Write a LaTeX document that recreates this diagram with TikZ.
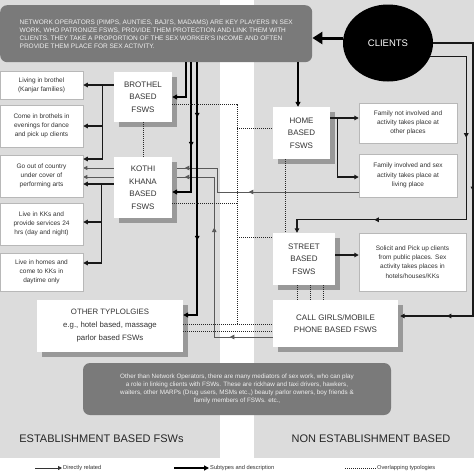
\documentclass[tikz,border=0pt]{standalone}
\usepackage{fontspec}
\setmainfont{Liberation Sans}
\usetikzlibrary{arrows.meta,shapes.geometric,shadows,decorations.markings,calc}
\pgfdeclarelayer{background}
\pgfdeclarelayer{lines}
\pgfsetlayers{background,lines,main}
\definecolor{panel}{HTML}{DCDCDC}
\definecolor{darkfill}{HTML}{7A7A7A}
\definecolor{txt}{HTML}{333333}
\begin{document}
\begin{tikzpicture}[x=1pt,y=-1pt,
  mainbox/.style={fill=white, align=center, font=\fontsize{8}{12.5}\selectfont, text=txt, inner sep=1pt,
    drop shadow={shadow xshift=5pt,shadow yshift=-5pt,fill=black!40,opacity=1}},
  descbox/.style={draw=black!28, line width=0.5pt, fill=white, align=center, font=\fontsize{6.5}{9.3}\selectfont, text=txt, inner sep=1pt,
    drop shadow={shadow xshift=1.2pt,shadow yshift=-1.2pt,fill=black!30,opacity=1}},
  darkbox/.style={fill=darkfill, rounded corners=7pt, text=white!94!black, inner sep=2pt},
  subthick/.style={line width=1.6pt, black, -{Triangle[length=5pt,width=5pt]}},
  subline/.style={line width=1.2pt, black!90, -{Triangle[length=4.5pt,width=4.5pt]}},
  relline/.style={line width=0.8pt, black!65, -{Triangle[length=4pt,width=4pt]}},
  overlap/.style={line width=0.9pt, black!85, dash pattern=on 1pt off 1pt},
  midtip/.style={postaction={decorate,decoration={markings,mark=at position #1 with {\arrow{Triangle[length=4.5pt,width=4.5pt]}}}}},
  legtext/.style={font=\fontsize{5.7}{7}\selectfont, text=txt, inner sep=1pt, anchor=west}
]
\useasboundingbox (0,0) rectangle (474,474);
\begin{pgfonlayer}{background}
  \fill[white] (0,0) rectangle (474,474);
  \fill[panel] (0,0) rectangle (220,458);
  \fill[panel] (254,0) rectangle (474,458);
\end{pgfonlayer}

% top and bottom dark boxes
\node[darkbox, minimum width=312pt, minimum height=57pt, anchor=north west, align=left,
  font=\fontsize{6.5}{8}\selectfont] (netop) at (0,5)
  {NETWORK OPERATORS (PIMPS, AUNTIES, BAJI'S, MADAMS) ARE KEY PLAYERS IN SEX\\
   WORK, WHO PATRONIZE FSWS, PROVIDE THEM PROTECTION AND LINK THEM WITH\\
   CLIENTS. THEY TAKE A PROPORTION OF THE SEX WORKER'S INCOME AND OFTEN\\
   PROVIDE THEM PLACE FOR SEX ACTIVITY.};
\node[darkbox, minimum width=308pt, minimum height=52pt, align=center,
  font=\fontsize{6.3}{8}\selectfont] (mediators) at (237,389)
  {Other than Network Operators, there are many mediators of sex work, who can play\\
   a role in linking clients with FSWs. These are rickhaw and taxi drivers, hawkers,\\
   waiters, other MARPs (Drug users, MSMs etc.,) beauty parlor owners, boy friends \&\\
   family members of FSWs. etc.,};

\node[ellipse, fill=black, minimum width=90pt, minimum height=77pt, inner sep=0pt, text=white,
  font=\fontsize{9.5}{11}\selectfont] (clients) at (388,43) {CLIENTS};

% main typology boxes
\node[mainbox, minimum width=58pt, minimum height=50pt] (brothel) at (143,97) {BROTHEL\\BASED\\FSWS};
\node[mainbox, minimum width=58pt, minimum height=61pt] (kothi) at (143,187.5) {KOTHI\\KHANA\\BASED\\FSWS};
\node[mainbox, minimum width=57pt, minimum height=52pt] (home) at (301.5,133) {HOME\\BASED\\FSWS};
\node[mainbox, minimum width=62pt, minimum height=52pt] (street) at (304,259) {STREET\\BASED\\FSWS};
\node[mainbox, minimum width=125pt, minimum height=47pt] (callgirls) at (335.5,323.5) {CALL GIRLS/MOBILE\\PHONE BASED FSWS};
\node[mainbox, minimum width=146pt, minimum height=52pt, font=\fontsize{7.8}{13}\selectfont] (other) at (110,326)
  {OTHER TYPLOLGIES\\e.g., hotel based, massage\\parlor based FSWs};

% description boxes
\node[descbox, minimum width=83pt, minimum height=28pt] (b1) at (41.5,85) {Living in brothel\\(Kanjar families)};
\node[descbox, minimum width=83pt, minimum height=42pt] (b2) at (41.5,126) {Come in brothels in\\evenings for dance\\and pick up clients};
\node[descbox, minimum width=83pt, minimum height=42pt] (b3) at (41.5,176) {Go out of country\\under cover of\\performing arts};
\node[descbox, minimum width=83pt, minimum height=42pt] (b4) at (41.5,224) {Live in KKs and\\provide services 24\\hrs (day and night)};
\node[descbox, minimum width=83pt, minimum height=38pt] (b5) at (41.5,272) {Live in homes and\\come to KKs in\\daytime only};
\node[descbox, minimum width=98pt, minimum height=40pt] (fam1) at (408,123) {Family not involved and\\activity takes place at\\other places};
\node[descbox, minimum width=98pt, minimum height=43pt] (fam2) at (408,175.5) {Family involved and sex\\activity takes place at\\living place};
\node[descbox, minimum width=107pt, minimum height=58pt] (solicit) at (412.5,262) {Solicit and Pick up clients\\from public places. Sex\\activity takes places in\\hotels/houses/KKs};

% section labels
\node[font=\fontsize{11}{13}\selectfont, text=black!85] (estab) at (101.5,439) {ESTABLISHMENT BASED FSWs};
\node[font=\fontsize{11}{13}\selectfont, text=black!85] (nonestab) at (371,439) {NON ESTABLISHMENT BASED};

% helper coordinates
\coordinate (rc) at (473,43);
\coordinate (dv) at (237,0);

% lines passing behind the Kothi box
\begin{pgfonlayer}{lines}
  \draw[relline, midtip=110pt, midtip=198pt] ([yshift=-16.5pt]fam2.west) -| ([xshift=134pt,yshift=8pt]b3.east) -- ([yshift=8pt]b3.east);
  \draw[relline, midtip=43pt, midtip=168pt, midtip=248pt] ([yshift=-13.5pt]callgirls.west) -| ([xshift=131pt,yshift=-1pt]b3.east) -- ([yshift=-1pt]b3.east);
\end{pgfonlayer}

% clients connections
\draw[line width=3pt, -{Triangle[length=10pt,width=12pt]}] ([yshift=5pt]clients.west) -- ([yshift=5pt]clients.west -| netop.east);
\draw[subline, midtip=117pt, midtip=291pt] (clients.-18.5) -| ([yshift=13pt]solicit.north east) -| ([xshift=-7pt]street.north);
\draw[subline, midtip=188pt, midtip=339pt] (clients.east) -- (rc) |- ([xshift=2pt,yshift=7.5pt]callgirls.east);

% network operators to typologies
\draw[subthick] ([xshift=30pt]netop.south) |- (brothel.east);
\draw[subthick, midtip=84pt] ([xshift=35pt]netop.south) |- ([yshift=-4.5pt]kothi.east);
\draw[subthick, midtip=55pt, midtip=178pt] ([xshift=41pt]netop.south) |- ([yshift=11pt]other.east);
\draw[subthick] ([xshift=-3.5pt]home.north |- netop.south) -- ([xshift=-3.5pt]home.north);

% subtypes and descriptions
\draw[subline] (b1.east -| brothel.west) -- (b1.east);
\draw[subline] ([xshift=19pt]b1.east) |- (b2.east);
\draw[subline] ([xshift=19pt]b1.east) |- ([yshift=17pt]b3.east);
\draw[subline] ([yshift=-8pt]b3.east -| kothi.west) -- ([yshift=-8pt]b3.east);
\draw[subline] ([xshift=18pt,yshift=-8pt]b3.east) |- ([yshift=2pt]b4.east);
\draw[subline] ([xshift=18pt,yshift=-8pt]b3.east) |- ([yshift=9pt]b5.east);
\draw[subline] ([yshift=5pt]fam1.west -| home.east) -- ([yshift=5pt]fam1.west);
\draw[subline] ([xshift=7pt,yshift=5pt]fam1.west -| home.east) |- ([yshift=-1.5pt]fam2.west);
\draw[subline] ([yshift=4pt]street.east) -- ([yshift=4pt]street.east -| solicit.west);

% overlapping typologies
\draw[overlap] (brothel.south) -- (kothi.north);
\draw[overlap] ([yshift=-7pt]brothel.east) -| ([yshift=2pt]other.east -| dv);
\draw[overlap] ([yshift=5pt]home.west -| dv) -- ([yshift=5pt]home.west);
\draw[overlap] ([yshift=-15.5pt]kothi.east) -- ([yshift=-15.5pt]kothi.east -| dv);
\draw[overlap] ([yshift=22pt]street.west -| dv) -- ([yshift=22pt]street.west);
\draw[overlap] ([yshift=2pt]other.east) -- ([yshift=2pt]other.east -| callgirls.west);
\draw[overlap] ([yshift=-5pt]other.east) -- ([yshift=-5pt]other.east -| callgirls.west);
\draw[overlap] ([xshift=-16.5pt]home.south) -- ([xshift=-16.5pt]home.south |- street.north);
\draw[overlap] ([xshift=-7pt]street.south) -- ([xshift=-7pt]street.south |- callgirls.north);
\draw[overlap] ([xshift=6pt]street.south) -- ([xshift=6pt]street.south |- callgirls.north);
\draw[overlap] ([xshift=19pt]street.south) -- ([xshift=19pt]street.south |- callgirls.north);

% legend
\coordinate (l1s) at (35,468);
\coordinate (l2s) at (174,468);
\coordinate (l3s) at (345,468);
\node[legtext] (l1) at (62,468) {Directly related};
\node[legtext] (l2) at (209,468) {Subtypes and description};
\node[legtext] (l3) at (376,468) {Overlapping typologies};
\draw[line width=0.8pt, black!80, -{Triangle[length=4pt,width=4pt]}] (l1s) -- (l1.west);
\draw[subthick] (l2s) -- (l2.west);
\draw[overlap] (l3s) -- (l3.west);
\end{tikzpicture}
\end{document}
